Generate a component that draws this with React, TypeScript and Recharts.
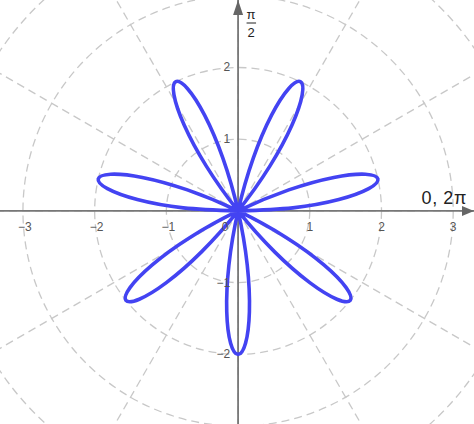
import React from 'react';
import { LineChart, Line, XAxis, YAxis, ReferenceLine, ReferenceDot, RadarChart, PolarGrid } from 'recharts';

const W = 474;
const H = 424;
const X_DOMAIN: [number, number] = [-3.32, 3.29];
const Y_DOMAIN: [number, number] = [-2.97, 2.94];

// rose petals: pole -> tip -> pole
const petal0 = [
  { x: 0, y: 0 }, { x: 0.764, y: 0.043 }, { x: 1.405, y: 0.158 }, { x: 1.822, y: 0.31 }, { x: 1.95, y: 0.445 },
  { x: 1.776, y: 0.512 }, { x: 1.335, y: 0.467 }, { x: 0.707, y: 0.293 }, { x: 0, y: 0 },
];
const petal1 = [
  { x: 0, y: 0 }, { x: 0.443, y: 0.624 }, { x: 0.752, y: 1.197 }, { x: 0.894, y: 1.617 }, { x: 0.868, y: 1.802 },
  { x: 0.707, y: 1.707 }, { x: 0.467, y: 1.335 }, { x: 0.212, y: 0.736 }, { x: 0, y: 0 },
];
const petal2 = [
  { x: 0, y: 0 }, { x: -0.212, y: 0.736 }, { x: -0.467, y: 1.335 }, { x: -0.707, y: 1.707 }, { x: -0.868, y: 1.802 },
  { x: -0.894, y: 1.617 }, { x: -0.752, y: 1.197 }, { x: -0.443, y: 0.624 }, { x: 0, y: 0 },
];
const petal3 = [
  { x: 0, y: 0 }, { x: -0.707, y: 0.293 }, { x: -1.335, y: 0.467 }, { x: -1.776, y: 0.512 }, { x: -1.95, y: 0.445 },
  { x: -1.822, y: 0.31 }, { x: -1.405, y: 0.158 }, { x: -0.764, y: 0.043 }, { x: 0, y: 0 },
];
const petal4 = [
  { x: 0, y: 0 }, { x: -0.67, y: -0.37 }, { x: -1.197, y: -0.752 }, { x: -1.507, y: -1.069 }, { x: -1.564, y: -1.247 },
  { x: -1.378, y: -1.231 }, { x: -1.0, y: -1.0 }, { x: -0.51, y: -0.571 }, { x: 0, y: 0 },
];
const petal5 = [
  { x: 0, y: 0 }, { x: -0.128, y: -0.755 }, { x: -0.158, y: -1.405 }, { x: -0.104, y: -1.845 }, { x: 0, y: -2.0 },
  { x: 0.104, y: -1.845 }, { x: 0.158, y: -1.405 }, { x: 0.128, y: -0.755 }, { x: 0, y: 0 },
];
const petal6 = [
  { x: 0, y: 0 }, { x: 0.51, y: -0.571 }, { x: 1.0, y: -1.0 }, { x: 1.378, y: -1.231 }, { x: 1.564, y: -1.247 },
  { x: 1.507, y: -1.069 }, { x: 1.197, y: -0.752 }, { x: 0.67, y: -0.37 }, { x: 0, y: 0 },
];

// order the curve is traced in, passing straight through the pole
const traceOrder = [petal0, petal4, petal1, petal5, petal2, petal6, petal3];

const xTicks = [-3, -2, -1, 1, 2, 3];
const yTicks = [-2, -1, 1, 2];
const gridRings = [1, 2, 3, 4, 5];
const gridAngles = [0, 30, 60, 90, 120, 150, 180, 210, 240, 270, 300, 330];
const xAxisName = '0, 2\u03c0';
const yAxisName = ['\u03c0', '2'];

const FONT = '"Liberation Sans", Arial, sans-serif';
const AXIS = '#777';
const TICK = '#555';

const curve = traceOrder.flatMap((p, i) => (i === 0 ? p : p.slice(1)));

const unit = W / (X_DOMAIN[1] - X_DOMAIN[0]);
const originX = -X_DOMAIN[0] * unit;
const originY = (Y_DOMAIN[1] / (Y_DOMAIN[1] - Y_DOMAIN[0])) * H;

const fmt = (v: number) => (v < 0 ? '\u2212' + Math.abs(v) : String(v));

const xTickShape = (v: number) => (p: any) => (
  <text x={p.cx + (v < 0 ? 2 : 0)} y={p.cy + 20} textAnchor="middle" fontSize={12} fill={TICK} fontFamily={FONT}>
    {fmt(v)}
  </text>
);

const yTickShape = (v: number) => (p: any) => (
  <text x={p.cx - 8} y={p.cy + 4} textAnchor="end" fontSize={12} fill={TICK} fontFamily={FONT}>
    {fmt(v)}
  </text>
);

const originShape = (p: any) => (
  <text x={p.cx - 13} y={p.cy + 20} textAnchor="middle" fontSize={12} fill={TICK} fontFamily={FONT}>
    0
  </text>
);

const xArrow = (p: any) => (
  <g>
    <polygon points={`${p.cx},${p.cy} ${p.cx - 12},${p.cy - 5} ${p.cx - 12},${p.cy + 5}`} fill="#666" />
    <text x={p.cx - 7} y={p.cy - 7} textAnchor="end" fontSize={18} letterSpacing={0.6} fill="#222" fontFamily={FONT}>
      {xAxisName}
    </text>
  </g>
);

const yArrow = (p: any) => (
  <g>
    <polygon points={`${p.cx},${p.cy} ${p.cx - 5},${p.cy + 15} ${p.cx + 5},${p.cy + 15}`} fill="#666" />
    <text x={p.cx + 13} y={p.cy + 19} textAnchor="middle" fontSize={13} fill="#222" fontFamily={FONT}>
      {yAxisName[0]}
    </text>
    <line x1={p.cx + 8.5} x2={p.cx + 18} y1={p.cy + 23} y2={p.cy + 23} stroke="#222" strokeWidth={1} />
    <text x={p.cx + 13} y={p.cy + 37} textAnchor="middle" fontSize={13} fill="#222" fontFamily={FONT}>
      {yAxisName[1]}
    </text>
  </g>
);

export default function App() {
  return (
    <div style={{ position: 'absolute', left: 0, top: 0, width: W, height: H, background: '#fff' }}>
      <div style={{ position: 'absolute', left: 0, top: 0 }}>
        <RadarChart
          width={W}
          height={H}
          cx={originX}
          cy={originY}
          outerRadius={gridRings[gridRings.length - 1] * unit}
          margin={{ top: 0, right: 0, bottom: 0, left: 0 }}
          data={[]}
        >
          <PolarGrid
            gridType="circle"
            polarAngles={gridAngles}
            polarRadius={gridRings.map((r) => r * unit)}
            stroke="#c8c8c8"
            strokeWidth={1.3}
            strokeDasharray="8 5"
          />
        </RadarChart>
      </div>
      <div style={{ position: 'absolute', left: 0, top: 0 }}>
        <LineChart width={W} height={H} margin={{ top: 0, right: 0, bottom: 0, left: 0 }}>
          <XAxis hide type="number" dataKey="x" domain={X_DOMAIN} allowDataOverflow />
          <YAxis hide type="number" dataKey="y" domain={Y_DOMAIN} allowDataOverflow />
          <ReferenceLine y={0} stroke={AXIS} strokeWidth={1.8} />
          <ReferenceLine x={0} stroke={AXIS} strokeWidth={1.8} />
          {xTicks.map((v) => (
            <ReferenceDot key={'x' + v} x={v} y={0} r={1} shape={xTickShape(v)} ifOverflow="visible" />
          ))}
          {yTicks.map((v) => (
            <ReferenceDot key={'y' + v} x={0} y={v} r={1} shape={yTickShape(v)} ifOverflow="visible" />
          ))}
          <ReferenceDot x={0} y={0} r={1} shape={originShape} ifOverflow="visible" />
          <ReferenceDot x={X_DOMAIN[1]} y={0} r={1} shape={xArrow} ifOverflow="visible" />
          <ReferenceDot x={0} y={Y_DOMAIN[1]} r={1} shape={yArrow} ifOverflow="visible" />
          <Line
            data={curve}
            dataKey="y"
            type="natural"
            stroke="#4343f2"
            strokeWidth={3.6}
            dot={false}
            activeDot={false}
            isAnimationActive={false}
          />
        </LineChart>
      </div>
    </div>
  );
}
